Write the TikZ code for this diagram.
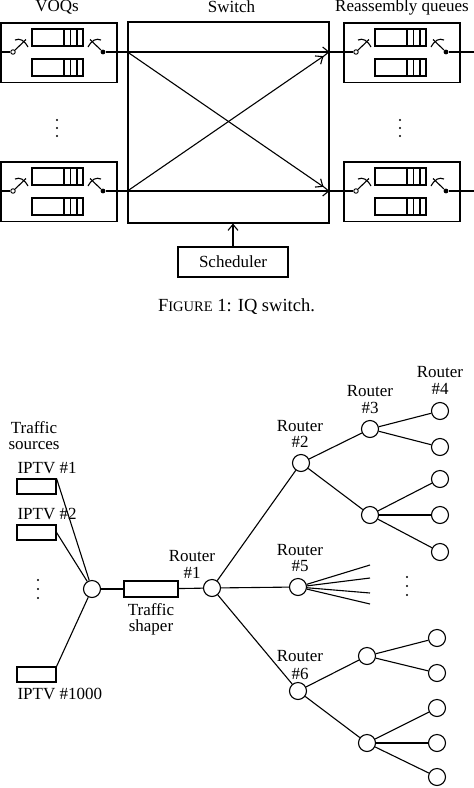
\documentclass[tikz,border=0pt]{standalone}
\usepackage{fontspec}
\setmainfont{Liberation Serif}
\usetikzlibrary{arrows.meta,calc}
\newcommand\myfs{\fontsize{17}{17}\selectfont}
\begin{document}
\begin{tikzpicture}[x=1pt,y=-1pt,line width=1.1pt,
  txt/.style={font=\myfs, inner sep=0pt, anchor=base},
  rt/.style={circle, draw, fill=white, minimum size=17pt, inner sep=0pt},
  sbox/.style={draw, inner sep=0pt, minimum width=39pt, minimum height=15pt},
  arr/.style={-{Straight Barb[length=6pt,width=10pt]}},
  dotc/.style={fill, circle, inner sep=0pt, minimum size=2.4pt},
  qbox/.pic={
    \draw (0,0) rectangle (116,59.5);
    \foreach \yy in {6,36}{
      \draw (31,\yy) rectangle (82,\yy+17);
      \foreach \xx in {63,69.5,76} \draw (\xx,\yy) -- (\xx,\yy+17);
    }
    \node[circle, draw, fill=white, minimum size=4.5pt, inner sep=0pt, line width=0.9pt] (-in) at (12,29) {};
    \node[circle, fill, minimum size=4.8pt, inner sep=0pt] (-out) at (102,29) {};
    \draw (-in) -- (25,16.5);
    \draw (14,17) .. controls (19,15) and (23,17) .. (27,24);
    \draw (-out) -- (89,16.5);
    \draw (100,17) .. controls (95,15) and (91,17) .. (87,24);
  }]
\useasboundingbox (0,0) rectangle (474,788);

% ---------- Figure 1 ----------
\node[txt] (tvoq) at (57,11) {VOQs};
\node[txt] (tsw) at (231.5,12) {Switch};
\node[txt] (treas) at (402,11.5) {Reassembly queues};

\pic (v1) at (1,23) {qbox};
\pic (v2) at (1,162) {qbox};
\pic (q1) at (344,23) {qbox};
\pic (q2) at (344,162) {qbox};

\node[draw, inner sep=0pt, minimum width=201pt, minimum height=201pt] (sw) at (228.5,122.5) {};

\coordinate (e1) at (0,52);
\coordinate (e2) at (0,191);
\coordinate (f1) at (474,52);
\coordinate (f2) at (474,191);

\draw (e1) -- (v1-in);
\draw (e2) -- (v2-in);
\draw[arr] (v1-out) -- (v1-out -| sw.east);
\draw[arr] (v2-out) -- (v2-out -| sw.east);
\draw[arr] (v1-out -| sw.west) -- ($(v1-out -| sw.west)!0.97!(v2-out -| sw.east)$);
\draw[arr] (v2-out -| sw.west) -- ($(v2-out -| sw.west)!0.97!(v1-out -| sw.east)$);
\draw (v1-out -| sw.east) -- (q1-in);
\draw (v2-out -| sw.east) -- (q2-in);
\draw (q1-out) -- (f1);
\draw (q2-out) -- (f2);

\foreach \yy in {120,128,136} {
  \node[dotc] at (57,\yy) {};
  \node[dotc] at (400,\yy) {};
}

\node[draw, font=\myfs, inner sep=0pt, minimum width=110pt, minimum height=30pt] (sch) at (233,262) {Scheduler};
\draw[arr] (sch.north) -- (sch.north |- sw.south);

\node[txt, font=\fontsize{18.5}{18}\selectfont] (cap) at (236.5,311.5) {F{\fontsize{14.5}{14}\selectfont IGURE} 1: IQ switch.};

% ---------- Figure 2 ----------
\node[txt] (ts1) at (34,433.5) {Traffic};
\node[txt] (ts2) at (34,449) {sources};
\node[txt, anchor=base west] (tip1) at (17,473) {IPTV \#1};
\node[txt, anchor=base west] (tip2) at (17,519.5) {IPTV \#2};
\node[txt, anchor=base west] (tip3) at (17,699) {IPTV \#1000};

\node[sbox] (ip1) at (36.5,486.5) {};
\node[sbox] (ip2) at (36.5,532.5) {};
\node[sbox] (ip3) at (36.5,674.5) {};

\node[rt] (agg) at (92,589) {};
\node[draw, inner sep=0pt, minimum width=54pt, minimum height=16pt] (sh) at (151,589) {};
\node[txt] (tsh1) at (151,615) {Traffic};
\node[txt] (tsh2) at (151,631.5) {shaper};

\node[rt] (r1) at (212,588) {};
\node[rt] (r2) at (301,463) {};
\node[rt] (r3) at (370,429) {};
\node[rt] (r4a) at (440,411) {};
\node[rt] (r4b) at (440,447) {};
\node[rt] (r2b) at (370,515) {};
\node[rt] (l1) at (440,479) {};
\node[rt] (l2) at (440,515) {};
\node[rt] (l3) at (440,552) {};
\node[rt] (r5) at (298,587) {};
\node[rt] (r6) at (298,691) {};
\node[rt] (r6a) at (367,656) {};
\node[rt] (r6b) at (367,743) {};
\node[rt] (m1) at (437,638) {};
\node[rt] (m2) at (437,673) {};
\node[rt] (m3) at (437,708) {};
\node[rt] (m4) at (437,743) {};
\node[rt] (m5) at (437,777) {};

\node[txt] (tr1a) at (192,561) {Router};
\node[txt] (tr1b) at (192,578) {\#1};
\node[txt] (tr2a) at (300,431) {Router};
\node[txt] (tr2b) at (300,447.5) {\#2};
\node[txt] (tr3a) at (370,396) {Router};
\node[txt] (tr3b) at (370,413) {\#3};
\node[txt] (tr4a) at (440,377) {Router};
\node[txt] (tr4b) at (440,394) {\#4};
\node[txt] (tr5a) at (300,555) {Router};
\node[txt] (tr5b) at (300,571.5) {\#5};
\node[txt] (tr6a) at (300,661.5) {Router};
\node[txt] (tr6b) at (300,679) {\#6};

\draw (ip1.north east) -- (agg);
\draw (ip2.east) -- (agg);
\draw (ip3.north east) -- (agg);
\draw (agg) -- (sh);
\draw (sh) -- (r1);
\draw (r1) -- (r2);
\draw (r1) -- (r5);
\draw (r1) -- (r6);
\draw (r2) -- (r3);
\draw (r2) -- (r2b);
\draw (r3) -- (r4a);
\draw (r3) -- (r4b);
\draw (r2b) -- (l1);
\draw (r2b) -- (l2);
\draw (r2b) -- (l3);
\draw (r6) -- (r6a);
\draw (r6) -- (r6b);
\draw (r6a) -- (m1);
\draw (r6a) -- (m2);
\draw (r6b) -- (m3);
\draw (r6b) -- (m4);
\draw (r6b) -- (m5);

\coordinate (fa) at (370,565);
\coordinate (fb) at (370,578);
\coordinate (fc) at (370,593);
\coordinate (fd) at (370,604);
\draw (r5) -- (fa);
\draw (r5) -- (fb);
\draw (r5) -- (fc);
\draw (r5) -- (fd);

\foreach \yy in {580,589,598} \node[dotc] at (38,\yy) {};
\foreach \yy in {577,586,595} \node[dotc] at (407,\yy) {};
\end{tikzpicture}
\end{document}
